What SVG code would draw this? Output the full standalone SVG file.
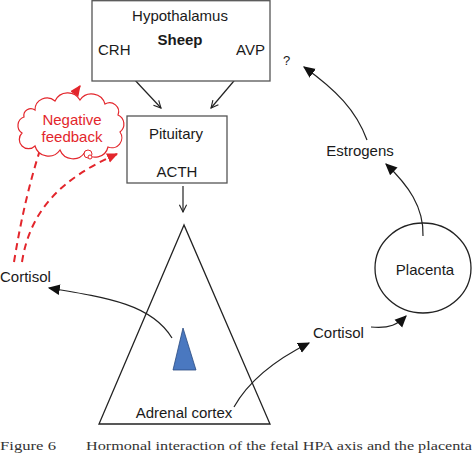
<svg xmlns="http://www.w3.org/2000/svg" width="474" height="454" viewBox="0 0 474 454">
<defs>
<style>
.t{font-family:"Liberation Sans",Arial,sans-serif;fill:#1a1a1a;font-size:15px}
.box{fill:#fff;stroke:#555;stroke-width:1.3}
.ln{fill:none;stroke:#222;stroke-width:1.2}
.red{fill:none;stroke:#e3262c;stroke-width:2;stroke-dasharray:7,5}
.rt{font-family:"Liberation Sans",Arial,sans-serif;fill:#e3262c;font-size:15px}
.cap{font-family:"Liberation Serif",serif;font-size:12px;fill:#333}
</style>
<marker id="open" viewBox="0 0 10 10" refX="9" refY="5" markerWidth="9" markerHeight="9" orient="auto" markerUnits="userSpaceOnUse">
<path d="M1,1 L9,5 L1,9" fill="none" stroke="#222" stroke-width="1.2"/>
</marker>
<marker id="fill" viewBox="0 0 10 10" refX="9" refY="5" markerWidth="12" markerHeight="12" orient="auto" markerUnits="userSpaceOnUse">
<path d="M0,0.5 L10,5 L0,9.5 Z" fill="#111"/>
</marker>
<marker id="rfill" viewBox="0 0 10 10" refX="9" refY="5" markerWidth="11" markerHeight="11" orient="auto" markerUnits="userSpaceOnUse">
<path d="M0,0.5 L10,5 L0,9.5 Z" fill="#e3262c"/>
</marker>
</defs>
<rect width="474" height="454" fill="#fff"/>

<g id="connectors">
<line class="ln" x1="118" y1="62" x2="161" y2="108" marker-end="url(#open)"/>
<line class="ln" x1="250" y1="62" x2="211" y2="108" marker-end="url(#open)"/>
<line class="ln" x1="183" y1="186" x2="183" y2="212" marker-end="url(#open)"/>
<path class="ln" d="M172,338 C152,305 110,298 49,288" marker-end="url(#fill)"/>
<path class="ln" d="M234,407 C248,382 275,360 309,343" marker-end="url(#fill)"/>
<path class="ln" d="M371,327 C390,329 398,324 406,316" marker-end="url(#fill)"/>
<path class="ln" d="M423,236 C424,207 408,185 386,164" marker-end="url(#fill)"/>
<path class="ln" d="M367,140 C356,110 336,90 304,67" marker-end="url(#fill)"/>
<path class="red" d="M14,262 Q24,200 40,150"/>
<path class="red" d="M70,100 L80,86" marker-end="url(#rfill)"/>
<path class="red" d="M22,262 C30,210 62,178 117,154" marker-end="url(#rfill)"/>
</g>

<g id="hypothalamus">
<rect class="box" x="92" y="0.7" width="178" height="80.3"/>
<text class="t" x="180" y="21" text-anchor="middle">Hypothalamus</text>
<text class="t" x="180" y="45" font-weight="bold" text-anchor="middle">Sheep</text>
<text class="t" x="98" y="55">CRH</text>
<text class="t" x="236" y="55">AVP</text>
</g>

<g id="question">
<text class="t" x="283" y="65" style="font-size:13px">?</text>
</g>

<g id="pituitary">
<rect class="box" x="127" y="116" width="100" height="67"/>
<text class="t" x="176" y="139" text-anchor="middle">Pituitary</text>
<text class="t" x="177" y="177" text-anchor="middle">ACTH</text>
</g>

<g id="adrenal">
<path d="M184,225 L99,424 L270,424 Z" fill="none" stroke="#222" stroke-width="1.3"/>
<path d="M183,328 L173,370 L196,370 Z" fill="#4a78c0" stroke="#2a4a80" stroke-width="0.8"/>
<text class="t" x="184" y="418" text-anchor="middle">Adrenal cortex</text>
</g>

<g id="cortisol-left">
<text class="t" x="0" y="282">Cortisol</text>
</g>

<g id="cortisol-right">
<text class="t" x="313" y="338">Cortisol</text>
</g>

<g id="placenta">
<ellipse cx="423" cy="268" rx="48" ry="45" fill="none" stroke="#222" stroke-width="1.3"/>
<text class="t" x="425" y="275" text-anchor="middle">Placenta</text>
</g>

<g id="estrogens">
<text class="t" x="360" y="156" text-anchor="middle">Estrogens</text>
</g>

<g id="negative-feedback">
<path d="M35,110 A12,12 0 0 1 55,101 A14,14 0 0 1 80,100 A14,14 0 0 1 105,104 A9,9 0 0 1 118,115 A10,10 0 0 1 120,132 A10,10 0 0 1 108,147 A13,13 0 0 1 85,152 A14,14 0 0 1 60,150 A14,14 0 0 1 35,146 A9,9 0 0 1 22,133 A9,9 0 0 1 24,117 A7,7 0 0 1 35,110 Z" fill="#fff" stroke="#e3262c" stroke-width="1.2"/>
<circle cx="88" cy="154" r="4" fill="#fff" stroke="#e3262c" stroke-width="1"/>
<circle cx="90" cy="157" r="2" fill="#fff" stroke="#e3262c" stroke-width="1"/>
<text class="rt" x="72" y="125" text-anchor="middle">Negative</text>
<text class="rt" x="72" y="142" text-anchor="middle">feedback</text>
</g>

<g id="caption">
<text class="cap" x="0" y="450" textLength="56" lengthAdjust="spacingAndGlyphs">Figure 6</text>
<text class="cap" x="86" y="450" textLength="386" lengthAdjust="spacingAndGlyphs">Hormonal interaction of the fetal HPA axis and the placenta</text>
</g>
</svg>
